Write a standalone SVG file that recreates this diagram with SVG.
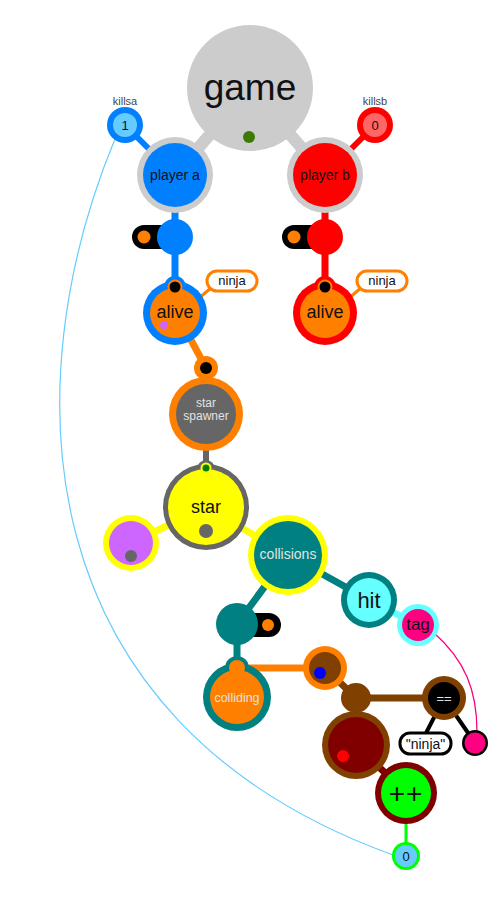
<svg xmlns="http://www.w3.org/2000/svg" width="500" height="900" viewBox="0 0 500 900">
<style>
text{font-family:"Liberation Sans",Arial,sans-serif;text-anchor:middle;fill:#111}
.lt{fill:#e2e2e2}
.c{fill:none;stroke-linecap:round}
</style>
<rect width="500" height="900" fill="#fff"/>
<g id="connectors" class="c">
<path d="M115,139 C15,380 20,720 393,855" stroke="#66ccff" stroke-width="1.2"/>
<path d="M433,632 C465,660 477,690 477,732" stroke="#ff0080" stroke-width="1.3"/>
<line x1="250" y1="88" x2="175" y2="175" stroke="#ccc" stroke-width="12"/>
<line x1="250" y1="88" x2="325" y2="175" stroke="#ccc" stroke-width="12"/>
<line x1="125" y1="125" x2="175" y2="175" stroke="#0080ff" stroke-width="6"/>
<line x1="375" y1="125" x2="325" y2="175" stroke="#ff0000" stroke-width="6"/>
<line x1="175" y1="175" x2="175" y2="300" stroke="#0080ff" stroke-width="7"/>
<line x1="325" y1="175" x2="325" y2="300" stroke="#ff0000" stroke-width="7"/>
<line x1="190" y1="306" x2="212" y2="287" stroke="#ff8000" stroke-width="3"/>
<line x1="340" y1="306" x2="362" y2="287" stroke="#ff8000" stroke-width="3"/>
<line x1="183" y1="325" x2="206" y2="368" stroke="#ff8000" stroke-width="7"/>
<line x1="206" y1="414" x2="206" y2="470" stroke="#666" stroke-width="6"/>
<line x1="206" y1="507" x2="131" y2="543" stroke="#ffff00" stroke-width="7"/>
<line x1="206" y1="507" x2="288" y2="555" stroke="#ffff00" stroke-width="7"/>
<line x1="288" y1="555" x2="369" y2="600" stroke="#008080" stroke-width="7"/>
<line x1="369" y1="600" x2="418" y2="625" stroke="#66ffff" stroke-width="7"/>
<line x1="288" y1="555" x2="237" y2="624" stroke="#008080" stroke-width="7"/>
<line x1="237" y1="624" x2="237" y2="680" stroke="#008080" stroke-width="7"/>
<line x1="237" y1="668" x2="325" y2="668" stroke="#ff8000" stroke-width="7"/>
<line x1="325" y1="668" x2="356" y2="698" stroke="#804000" stroke-width="7"/>
<line x1="356" y1="698" x2="444" y2="698" stroke="#804000" stroke-width="7"/>
<line x1="356" y1="745" x2="406" y2="793" stroke="#800000" stroke-width="7"/>
<line x1="406" y1="793" x2="406" y2="856" stroke="#00ff00" stroke-width="3"/>
<line x1="444" y1="698" x2="424" y2="737" stroke="#000" stroke-width="4"/>
<line x1="444" y1="698" x2="475" y2="743" stroke="#000" stroke-width="4"/>
</g>
<g id="game">
<circle cx="250" cy="88" r="63" fill="#ccc"/>
<text x="250" y="100" font-size="37">game</text>
<circle cx="249" cy="137" r="6" fill="#3f7a00"/>
</g>
<g id="killsa">
<text x="125" y="105" font-size="11" style="fill:#444">killsa</text>
<circle cx="125" cy="125" r="18" fill="#0080ff"/>
<circle cx="125" cy="125" r="12" fill="#66ccff"/>
<text x="125" y="130" font-size="13">1</text>
</g>
<g id="killsb">
<text x="375" y="105" font-size="11" style="fill:#444">killsb</text>
<circle cx="375" cy="125" r="18" fill="#ff0000"/>
<circle cx="375" cy="125" r="12" fill="#ff6666"/>
<text x="375" y="130" font-size="13">0</text>
</g>
<g id="player-a">
<circle cx="175" cy="175" r="38" fill="#ccc"/>
<circle cx="175" cy="175" r="32" fill="#0080ff"/>
<text x="175" y="180" font-size="14">player a</text>
</g>
<g id="player-b">
<circle cx="325" cy="175" r="38" fill="#ccc"/>
<circle cx="325" cy="175" r="32" fill="#ff0000"/>
<text x="325" y="180" font-size="14">player b</text>
</g>
<g id="switch-a">
<rect x="132" y="225" width="50" height="24" rx="12" fill="#000"/>
<circle cx="144" cy="237" r="6.5" fill="#ff8000"/>
<circle cx="175" cy="237" r="18" fill="#0080ff"/>
</g>
<g id="switch-b">
<rect x="282" y="225" width="50" height="24" rx="12" fill="#000"/>
<circle cx="294" cy="237" r="6.5" fill="#ff8000"/>
<circle cx="325" cy="237" r="18" fill="#ff0000"/>
</g>
<g id="alive-a">
<circle cx="175" cy="313" r="32" fill="#0080ff"/>
<circle cx="175" cy="287" r="11" fill="#0080ff"/>
<circle cx="175" cy="313" r="25" fill="#ff8000"/>
<circle cx="175" cy="287" r="7.5" fill="#ff8000"/>
<circle cx="175" cy="287" r="5.5" fill="#000"/>
<text x="175" y="318" font-size="18">alive</text>
<circle cx="164" cy="325" r="4" fill="#cc66ff"/>
</g>
<g id="ninja-a">
<rect x="207" y="271" width="50" height="20" rx="10" fill="#fff" stroke="#ff8000" stroke-width="3"/>
<text x="232" y="285" font-size="13">ninja</text>
</g>
<g id="alive-b">
<circle cx="325" cy="313" r="32" fill="#ff0000"/>
<circle cx="325" cy="287" r="11" fill="#ff0000"/>
<circle cx="325" cy="313" r="25" fill="#ff8000"/>
<circle cx="325" cy="287" r="7.5" fill="#ff8000"/>
<circle cx="325" cy="287" r="5.5" fill="#000"/>
<text x="325" y="318" font-size="18">alive</text>
</g>
<g id="ninja-b">
<rect x="357" y="271" width="50" height="20" rx="10" fill="#fff" stroke="#ff8000" stroke-width="3"/>
<text x="382" y="285" font-size="13">ninja</text>
</g>
<g id="star-spawner">
<circle cx="206" cy="368" r="12" fill="#ff8000"/>
<circle cx="206" cy="368" r="6" fill="#000"/>
<circle cx="206" cy="414" r="37" fill="#ff8000"/>
<circle cx="206" cy="414" r="30" fill="#666"/>
<text class="lt" x="206" y="407" font-size="12">star</text>
<text class="lt" x="206" y="420" font-size="12">spawner</text>
</g>
<g id="star">
<circle cx="206" cy="507" r="43" fill="#666"/>
<circle cx="206" cy="469" r="9" fill="#666"/>
<circle cx="206" cy="507" r="38" fill="#ffff00"/>
<circle cx="206" cy="468" r="5.5" fill="#ffff00"/>
<circle cx="206" cy="468" r="3.5" fill="#008000"/>
<text x="206" y="513" font-size="18">star</text>
<circle cx="206" cy="531" r="7" fill="#666"/>
</g>
<g id="purple">
<circle cx="131" cy="543" r="28" fill="#ffff00"/>
<circle cx="131" cy="543" r="22" fill="#cc66ff"/>
<circle cx="131" cy="556" r="6" fill="#666"/>
</g>
<g id="collisions">
<circle cx="288" cy="555" r="40" fill="#ffff00"/>
<circle cx="288" cy="555" r="34" fill="#008080"/>
<text class="lt" x="288" y="559" font-size="14">collisions</text>
</g>
<g id="hit">
<circle cx="369" cy="600" r="28" fill="#008080"/>
<circle cx="369" cy="600" r="22" fill="#66ffff"/>
<text x="369" y="608" font-size="22">hit</text>
</g>
<g id="tag">
<circle cx="418" cy="625" r="21" fill="#66ffff"/>
<circle cx="418" cy="625" r="16" fill="#ff0080"/>
<text x="418" y="630" font-size="17">tag</text>
</g>
<g id="switch-c">
<rect x="237" y="613" width="44" height="24" rx="12" fill="#000"/>
<circle cx="268" cy="625" r="6" fill="#ff8000"/>
<circle cx="237" cy="624" r="21" fill="#008080"/>
</g>
<g id="colliding">
<circle cx="237" cy="697" r="34" fill="#008080"/>
<circle cx="237" cy="668" r="12" fill="#008080"/>
<circle cx="237" cy="697" r="27" fill="#ff8000"/>
<circle cx="237" cy="668" r="8" fill="#ff8000"/>
<text class="lt" x="237" y="702" font-size="12.5">colliding</text>
</g>
<g id="brown-a">
<circle cx="325" cy="668" r="22" fill="#ff8000"/>
<circle cx="325" cy="668" r="16" fill="#804000"/>
<circle cx="320" cy="673" r="6" fill="#0000ff"/>
</g>
<g id="darkred">
<circle cx="356" cy="745" r="34" fill="#804000"/>
<circle cx="356" cy="745" r="28" fill="#800000"/>
<circle cx="343" cy="756" r="6" fill="#ff0000"/>
</g>
<g id="brown-b">
<circle cx="356" cy="698" r="15" fill="#804000"/>
</g>
<g id="eq">
<circle cx="444" cy="698" r="22" fill="#804000"/>
<circle cx="444" cy="698" r="16" fill="#000"/>
<text class="lt" x="444" y="703" font-size="13">==</text>
</g>
<g id="ninja-str">
<rect x="400" y="733" width="51" height="21" rx="10" fill="#fff" stroke="#000" stroke-width="3"/>
<text x="425.5" y="749" font-size="14">"ninja"</text>
</g>
<g id="pink">
<circle cx="475" cy="743" r="13" fill="#000"/>
<circle cx="475" cy="743" r="10.5" fill="#ff0080"/>
</g>
<g id="inc">
<circle cx="406" cy="793" r="31" fill="#800000"/>
<circle cx="406" cy="793" r="25" fill="#00ff00"/>
<text x="406" y="803" font-size="28" letter-spacing="1">++</text>
</g>
<g id="zero">
<circle cx="406" cy="856" r="14" fill="#00ff00"/>
<circle cx="406" cy="856" r="11" fill="#66ccff"/>
<text x="406" y="861" font-size="13">0</text>
</g>
</svg>
